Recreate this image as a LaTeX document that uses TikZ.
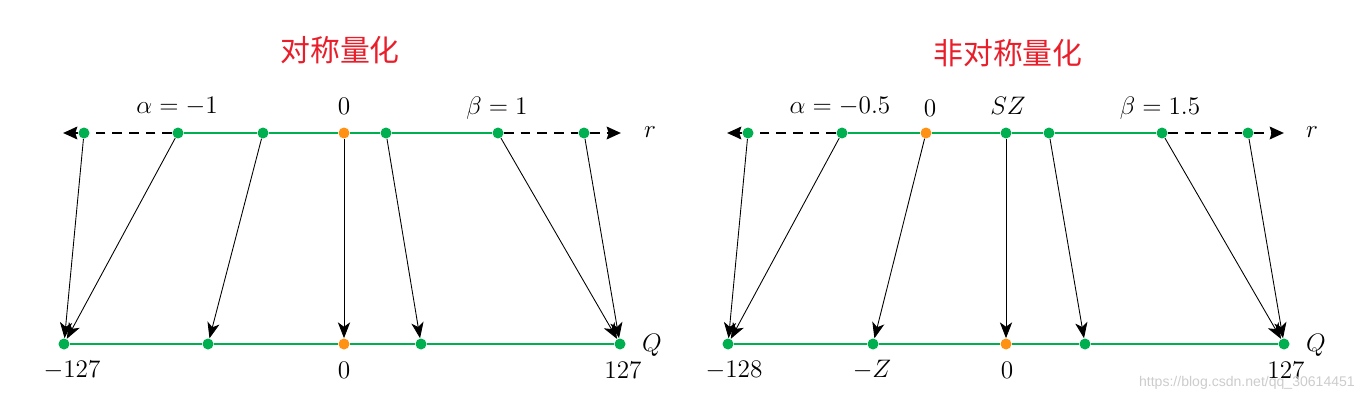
\documentclass[tikz,border=0pt]{standalone}
\usepackage{fontspec}
\usepackage{amsmath}
\usepackage{tikz}
\usetikzlibrary{arrows.meta}
\newfontfamily\cjk{Noto Sans CJK SC}
\newfontfamily\wmfont{Liberation Sans}
\definecolor{qgreen}{RGB}{0,176,80}
\definecolor{qorange}{RGB}{255,145,20}
\definecolor{qred}{RGB}{233,30,42}

\begin{document}
\begin{tikzpicture}[
    x=0.02cm, y=-0.02cm,
    axis/.style={-{Stealth[length=8pt,width=7pt,inset=1pt]}, dash pattern=on 5.5pt off 4pt, line width=1.7pt},
    dashed line/.style={dash pattern=on 5.5pt off 4pt, line width=1.7pt},
    green line/.style={qgreen, line width=1.7pt},
    map line/.style={-{Stealth[length=9pt,width=7pt,inset=2.5pt]}, line width=0.5pt},
    dot/.style={circle, fill=qgreen, inner sep=0pt, minimum size=0.22cm},
    zero dot/.style={dot, fill=qorange},
    val text/.style={font=\fontsize{14}{16}\selectfont},
    head text/.style={font=\cjk\fontsize{17}{20}\selectfont, text=qred}
    ]
    \useasboundingbox (0,0) rectangle (1365,402);

    % titles
    \node[head text] (Ltitle) at (340,50) {对称量化};
    \node[head text] (Rtitle) at (1008,53) {非对称量化};

    % left: real axis r
    \node[dot] (L1) at (84,133) {};
    \node[dot] (La) at (178,133) {};
    \node[dot] (L2) at (263,133) {};
    \node[zero dot] (L0) at (344,133) {};
    \node[dot] (L3) at (386,133) {};
    \node[dot] (Lb) at (498,133) {};
    \node[dot] (L4) at (584,133) {};
    \coordinate (Lleft) at (63,133);
    \coordinate (Lright) at (621,133);
    \foreach \a/\b in {La/L2,L2/L0,L0/L3,L3/Lb}
        \draw[green line] (\a) -- (\b);
    \draw[dashed line] (La) -- (L1);
    \draw[axis] (L1) -- (Lleft);
    \draw[dashed line] (Lb) -- (L4);
    \draw[axis] (L4) -- (Lright);
    \node[val text] (La-t) at (177,106) {$\alpha=-1$};
    \node[val text] (L0-t) at (344,106) {$0$};
    \node[val text] (Lb-t) at (497,108) {$\beta=1$};
    \node[val text] (Lr-t) at (650,132) {$r$};

    % left: quantized axis Q
    \node[dot] (Qm) at (64,344) {};
    \node[dot] (Q1) at (208,344) {};
    \node[zero dot] (Q0) at (344,344) {};
    \node[dot] (Q2) at (421,344) {};
    \node[dot] (QM) at (620,344) {};
    \foreach \a/\b in {Qm/Q1,Q1/Q0,Q0/Q2,Q2/QM}
        \draw[green line] (\a) -- (\b);
    \node[val text] (Qm-t) at (72,370) {$-127$};
    \node[val text] (Q0-t) at (344,370) {$0$};
    \node[val text] (QM-t) at (623,370) {$127$};
    \node[val text] (Q-t) at (652,345) {$Q$};

    % left: mapping
    \foreach \a/\b in {L1/Qm,La/Qm,L2/Q1,L0/Q0,L3/Q2,Lb/QM,L4/QM}
        \draw[map line] (\a) -- (\b);

    % right: real axis r
    \node[dot] (R1) at (748,133) {};
    \node[dot] (Ra) at (842,133) {};
    \node[zero dot] (R0) at (926,133) {};
    \node[dot] (Rs) at (1006,133) {};
    \node[dot] (R2) at (1049,133) {};
    \node[dot] (Rb) at (1162,133) {};
    \node[dot] (R3) at (1248,133) {};
    \coordinate (Rleft) at (727,133);
    \coordinate (Rright) at (1284,133);
    \foreach \a/\b in {Ra/R0,R0/Rs,Rs/R2,R2/Rb}
        \draw[green line] (\a) -- (\b);
    \draw[dashed line] (Ra) -- (R1);
    \draw[axis] (R1) -- (Rleft);
    \draw[dashed line] (Rb) -- (R3);
    \draw[axis] (R3) -- (Rright);
    \node[val text] (Ra-t) at (840,106) {$\alpha=-0.5$};
    \node[val text] (R0-t) at (930,108) {$0$};
    \node[val text] (Rs-t) at (1008,106) {$SZ$};
    \node[val text] (Rb-t) at (1160,108) {$\beta=1.5$};
    \node[val text] (Rr-t) at (1312,132) {$r$};

    % right: quantized axis Q
    \node[dot] (Pm) at (728,344) {};
    \node[dot] (Pz) at (873,344) {};
    \node[zero dot] (P0) at (1006,344) {};
    \node[dot] (P1) at (1085,344) {};
    \node[dot] (PM) at (1284,344) {};
    \foreach \a/\b in {Pm/Pz,Pz/P0,P0/P1,P1/PM}
        \draw[green line] (\a) -- (\b);
    \node[val text] (Pm-t) at (734,370) {$-128$};
    \node[val text] (Pz-t) at (872,370) {$-Z$};
    \node[val text] (P0-t) at (1007,370) {$0$};
    \node[val text] (PM-t) at (1286,370) {$127$};
    \node[val text] (P-t) at (1316,345) {$Q$};

    % right: mapping
    \foreach \a/\b in {R1/Pm,Ra/Pm,R0/Pz,Rs/P0,R2/P1,Rb/PM,R3/PM}
        \draw[map line] (\a) -- (\b);

    % watermark
    \node[font=\wmfont\fontsize{8}{9}\selectfont, text=black!20, anchor=east] (wm) at (1361,383) {https://blog.csdn.net/qq\_30614451};
\end{tikzpicture}
\end{document}
